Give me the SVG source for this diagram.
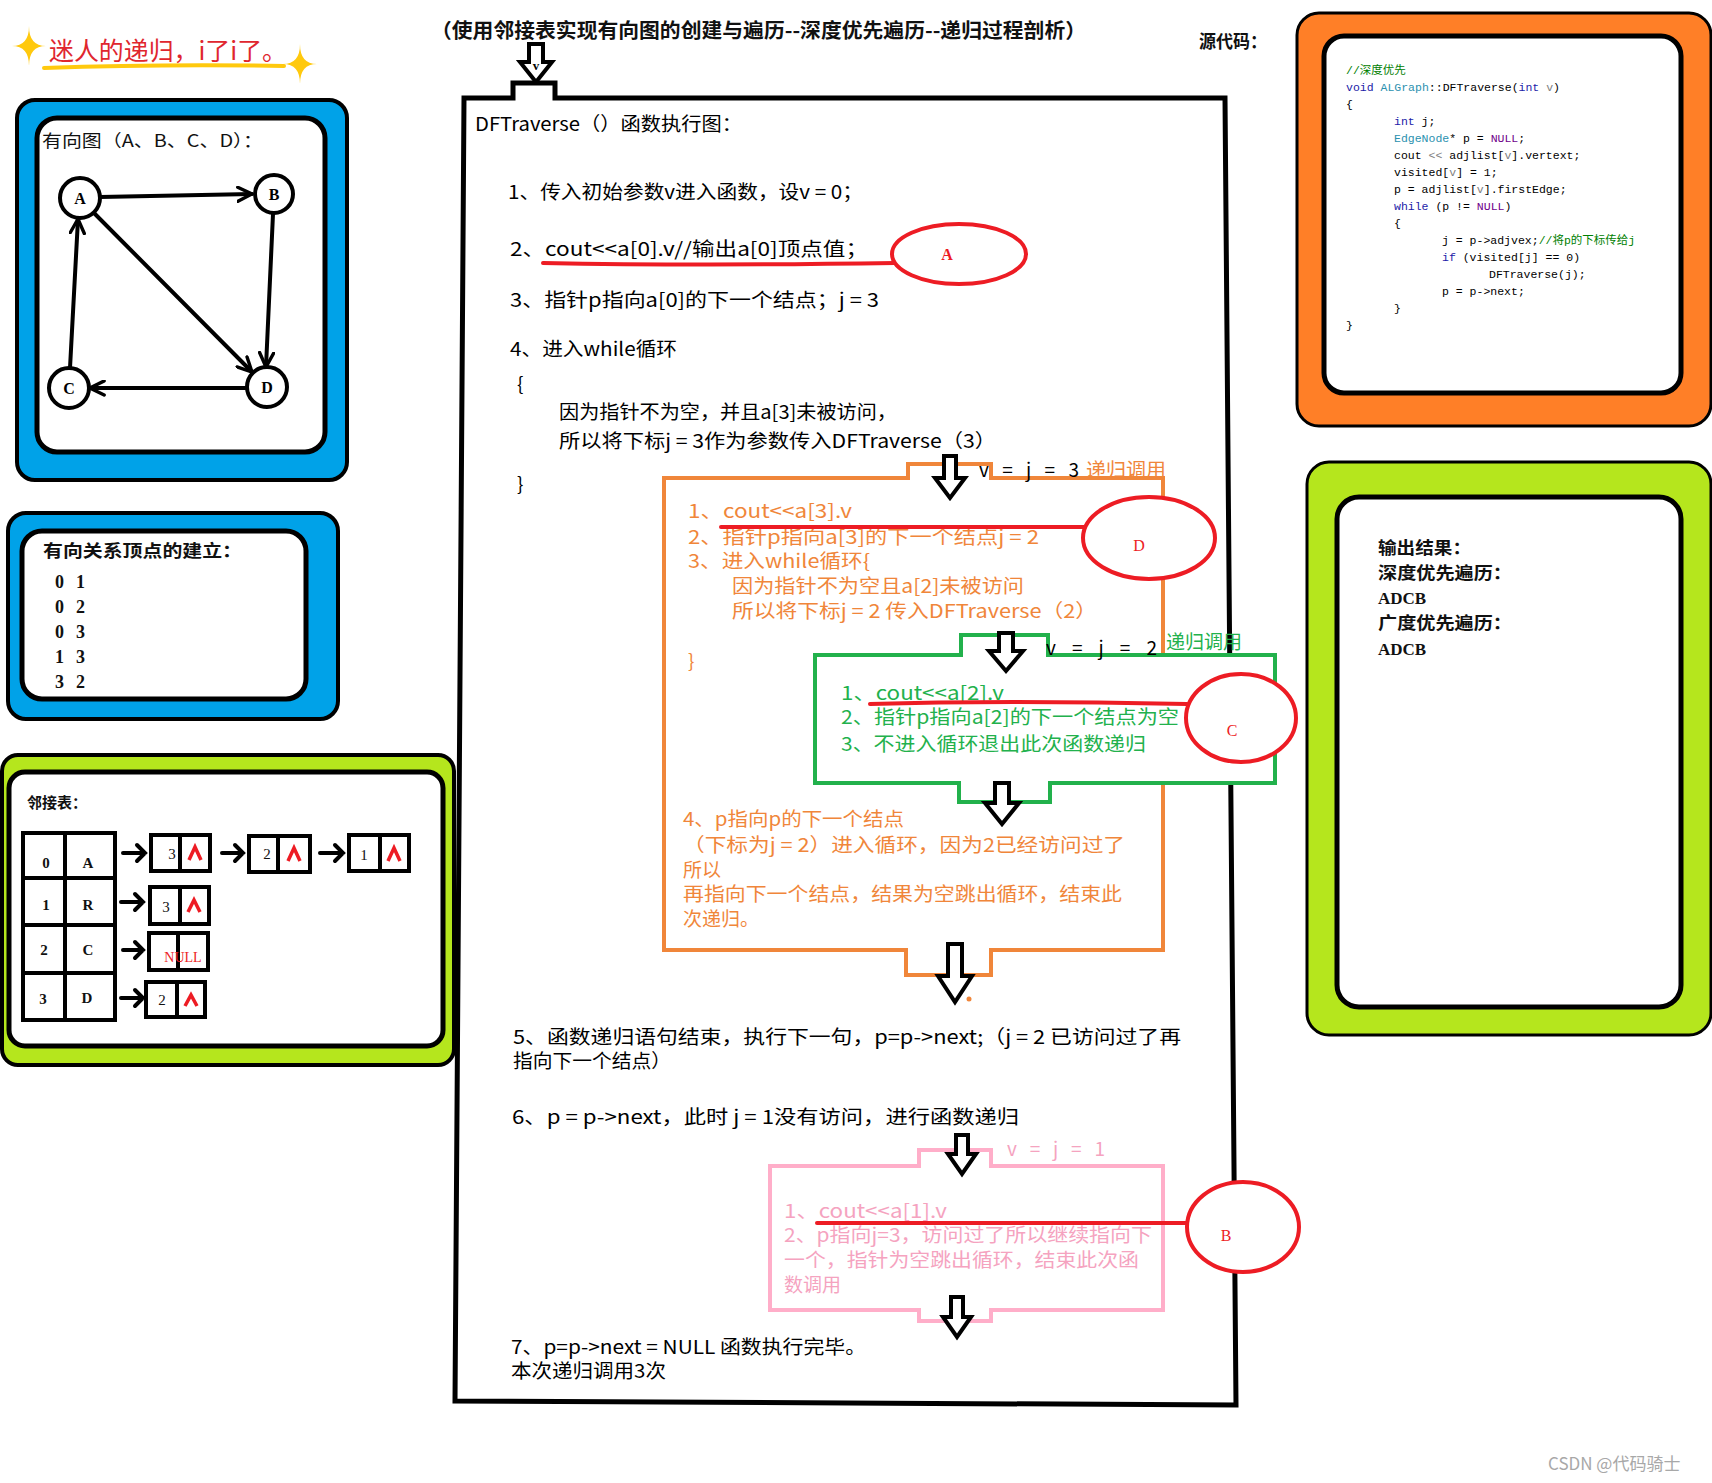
<svg xmlns="http://www.w3.org/2000/svg" width="1712" height="1483" viewBox="0 0 1712 1483">
<style>
.cjk{font-family:'Noto Sans CJK SC','Noto Sans',sans-serif}
.ser{font-family:'Liberation Serif','Noto Sans CJK SC',serif}
.mono{font-family:'Liberation Mono','Noto Sans CJK SC',monospace;font-size:11.5px;fill:#000}
.t{font-family:'Noto Sans CJK SC',sans-serif;font-size:19px;fill:#000}
.o{fill:#f0863a}
.g{fill:#22b14c}
.pk{fill:#f5a3bf}
.r{fill:#ed1c24}
.box{fill:#fff;stroke:#000;stroke-width:5}
.edge{fill:none;stroke:#000;stroke-width:4;stroke-linecap:round}
.har{fill:#fff;stroke:#000;stroke-width:4;stroke-linejoin:miter}
.rl{fill:none;stroke:#ed1c24;stroke-width:4;stroke-linecap:round}
.ell{fill:#fff;stroke:#ed1c24;stroke-width:4}
.cell{fill:#fff;stroke:#000;stroke-width:4}
.nul{fill:none;stroke:#ed1c24;stroke-width:3.5;stroke-linejoin:miter}
.kw{fill:#1c1ca8}.ty{fill:#2b91af}.cm{fill:#008000}.pa{fill:#808080}.nl{fill:#6f008a}
</style>
<defs>
<marker id="chev" viewBox="0 0 12 12" refX="11" refY="6" markerWidth="17" markerHeight="17" markerUnits="userSpaceOnUse" orient="auto"><path d="M1,1 L11,6 L1,11" fill="none" stroke="#000" stroke-width="2.4" stroke-linecap="round"/></marker>
<path id="star" d="M0,-20 Q0,0 17,0 Q0,0 0,20 Q0,0 -17,0 Q0,0 0,-20 Z" fill="#ffc90e"/>
</defs>

<!-- header -->
<g id="title">
<use href="#star" x="29" y="46"/>
<text x="49" y="60" class="cjk" font-size="25" fill="#e0262e" textLength="238" lengthAdjust="spacingAndGlyphs">迷人的递归，i了i了。</text>
<path d="M44,68 Q160,64 284,66" fill="none" stroke="#ffc90e" stroke-width="4" stroke-linecap="round"/>
<use href="#star" x="300" y="64"/>
</g>
<g id="heading">
<text x="431" y="38" class="cjk" font-size="20" font-weight="bold" fill="#111" textLength="655" lengthAdjust="spacingAndGlyphs">（使用邻接表实现有向图的创建与遍历--深度优先遍历--递归过程剖析）</text>
</g>
<g id="src-label"><text x="1199" y="48" class="cjk" font-size="18" font-weight="bold" fill="#111" textLength="68" lengthAdjust="spacingAndGlyphs">源代码：</text></g>

<!-- graph box -->
<g id="graph-box">
<rect x="17" y="100" width="330" height="380" rx="18" fill="#00a2e8" stroke="#000" stroke-width="4"/>
<rect x="37" y="118" width="288" height="334" rx="20" fill="#fff" stroke="#000" stroke-width="5"/>
<text x="42" y="147" class="cjk" font-size="17" fill="#111" textLength="221" lengthAdjust="spacingAndGlyphs">有向图（A、B、C、D）：</text>
<g id="graph-edges">
<path class="edge" d="M100,197 L252,194" marker-end="url(#chev)"/>
<path class="edge" d="M94,213 L252,372" marker-end="url(#chev)"/>
<path class="edge" d="M273,214 L266,367" marker-end="url(#chev)"/>
<path class="edge" d="M246,388 L90,388" marker-end="url(#chev)"/>
<path class="edge" d="M70,368 L78,219" marker-end="url(#chev)"/>
</g>
<g id="vA"><circle cx="80" cy="198" r="20" fill="#fff" stroke="#000" stroke-width="4"/><text x="80" y="204" class="ser" font-size="16" font-weight="bold" text-anchor="middle">A</text></g>
<g id="vB"><circle cx="274" cy="194" r="19" fill="#fff" stroke="#000" stroke-width="4"/><text x="274" y="200" class="ser" font-size="16" font-weight="bold" text-anchor="middle">B</text></g>
<g id="vC"><circle cx="69" cy="388" r="20" fill="#fff" stroke="#000" stroke-width="4"/><text x="69" y="394" class="ser" font-size="16" font-weight="bold" text-anchor="middle">C</text></g>
<g id="vD"><circle cx="267" cy="387" r="20" fill="#fff" stroke="#000" stroke-width="4"/><text x="267" y="393" class="ser" font-size="16" font-weight="bold" text-anchor="middle">D</text></g>
</g>

<!-- edges list box -->
<g id="edges-box">
<rect x="8" y="513" width="330" height="206" rx="18" fill="#00a2e8" stroke="#000" stroke-width="4"/>
<rect x="22" y="531" width="284" height="168" rx="20" fill="#fff" stroke="#000" stroke-width="5"/>
<text x="43" y="557" class="cjk" font-size="17" font-weight="bold" fill="#111" textLength="199" lengthAdjust="spacingAndGlyphs">有向关系顶点的建立：</text>
<g class="ser" font-size="18" font-weight="bold" fill="#111">
<text x="55" y="588">0<tspan x="76">1</tspan></text>
<text x="55" y="613">0<tspan x="76">2</tspan></text>
<text x="55" y="638">0<tspan x="76">3</tspan></text>
<text x="55" y="663">1<tspan x="76">3</tspan></text>
<text x="55" y="688">3<tspan x="76">2</tspan></text>
</g>
</g>

<!-- adjacency list box -->
<g id="adj-box">
<rect x="2" y="755" width="452" height="310" rx="16" fill="#b5e61d" stroke="#000" stroke-width="4"/>
<rect x="9" y="772" width="434" height="274" rx="16" fill="#fff" stroke="#000" stroke-width="5"/>
<text x="27" y="808" class="cjk" font-size="15" font-weight="bold" fill="#111">邻接表：</text>
<g id="adj-table">
<rect x="23" y="833" width="92" height="187" class="cell"/>
<path d="M65,833 V1020 M23,878 H115 M23,925 H115 M23,973 H115" stroke="#000" stroke-width="4" fill="none"/>
<g class="ser" font-size="15" font-weight="bold" fill="#111" text-anchor="middle">
<text x="46" y="868">0</text><text x="88" y="868">A</text>
<text x="46" y="910">1</text><text x="88" y="910">R</text>
<text x="44" y="955">2</text><text x="88" y="955">C</text>
<text x="43" y="1004">3</text><text x="87" y="1003">D</text>
</g>
</g>
<g id="adj-arrows" fill="none" stroke="#000" stroke-width="4" stroke-linecap="round">
<path d="M123,853 H145 M137,845 L145,853 L137,861"/>
<path d="M222,853 H243 M235,845 L243,853 L235,861"/>
<path d="M320,853 H343 M335,845 L343,853 L335,861"/>
<path d="M121,902 H143 M135,894 L143,902 L135,910"/>
<path d="M123,950 H143 M135,942 L143,950 L135,958"/>
<path d="M121,998 H143 M135,990 L143,998 L135,1006"/>
</g>
<g id="adj-nodes">
<rect x="151" y="835" width="59" height="36" class="cell"/><path d="M180,835 V871" stroke="#000" stroke-width="4"/>
<rect x="249" y="836" width="61" height="36" class="cell"/><path d="M278,836 V872" stroke="#000" stroke-width="4"/>
<rect x="349" y="835" width="60" height="36" class="cell"/><path d="M380,835 V871" stroke="#000" stroke-width="4"/>
<rect x="150" y="887" width="59" height="37" class="cell"/><path d="M180,887 V924" stroke="#000" stroke-width="4"/>
<rect x="149" y="933" width="59" height="37" class="cell"/><path d="M178,933 V970" stroke="#000" stroke-width="4"/>
<rect x="146" y="982" width="59" height="35" class="cell"/><path d="M177,982 V1017" stroke="#000" stroke-width="4"/>
<g class="ser" font-size="15" fill="#111" text-anchor="middle">
<text x="172" y="859">3</text><text x="267" y="859">2</text><text x="364" y="860">1</text>
<text x="166" y="912">3</text><text x="162" y="1005">2</text>
</g>
<text x="183" y="962" class="ser" font-size="14" fill="#ed1c24" text-anchor="middle">NULL</text>
<path class="nul" d="M189,860 L195,847 L201,860"/>
<path class="nul" d="M288,861 L294,848 L300,861"/>
<path class="nul" d="M388,861 L394,848 L400,861"/>
<path class="nul" d="M188,912 L194,900 L200,912"/>
<path class="nul" d="M185,1006 L191,995 L197,1006"/>
</g>
</g>

<!-- source code box -->
<g id="code-box">
<rect x="1297" y="13" width="414" height="413" rx="22" fill="#ff7f27" stroke="#000" stroke-width="3"/>
<rect x="1324" y="36" width="357" height="357" rx="20" fill="#fff" stroke="#000" stroke-width="5"/>
<g class="mono" xml:space="preserve">
<text x="1346" y="74" class="cm">//深度优先</text>
<text x="1346" y="91"><tspan class="kw">void</tspan> <tspan class="ty">ALGraph</tspan>::DFTraverse(<tspan class="kw">int</tspan> <tspan class="pa">v</tspan>)</text>
<text x="1346" y="108">{</text>
<text x="1394" y="125"><tspan class="kw">int</tspan> j;</text>
<text x="1394" y="142"><tspan class="ty">EdgeNode</tspan>* p = <tspan class="nl">NULL</tspan>;</text>
<text x="1394" y="159">cout <tspan class="pa">&lt;&lt;</tspan> adjlist[<tspan class="pa">v</tspan>].vertext;</text>
<text x="1394" y="176">visited[<tspan class="pa">v</tspan>] = 1;</text>
<text x="1394" y="193">p = adjlist[<tspan class="pa">v</tspan>].firstEdge;</text>
<text x="1394" y="210"><tspan class="kw">while</tspan> (p != <tspan class="nl">NULL</tspan>)</text>
<text x="1394" y="227">{</text>
<text x="1442" y="244">j = p-&gt;adjvex;<tspan class="cm">//将p的下标传给j</tspan></text>
<text x="1442" y="261"><tspan class="kw">if</tspan> (visited[j] == 0)</text>
<text x="1489" y="278">DFTraverse(j);</text>
<text x="1442" y="295">p = p-&gt;next;</text>
<text x="1394" y="312">}</text>
<text x="1346" y="329">}</text>
</g>
</g>

<!-- output box -->
<g id="output-box">
<rect x="1307" y="462" width="404" height="573" rx="22" fill="#b5e61d" stroke="#000" stroke-width="3"/>
<rect x="1337" y="497" width="344" height="510" rx="22" fill="#fff" stroke="#000" stroke-width="5"/>
<g class="cjk" font-size="17" font-weight="bold" fill="#111">
<text x="1378" y="554" textLength="93" lengthAdjust="spacingAndGlyphs">输出结果：</text>
<text x="1378" y="579" textLength="134" lengthAdjust="spacingAndGlyphs">深度优先遍历：</text>
<text x="1378" y="629" textLength="134" lengthAdjust="spacingAndGlyphs">广度优先遍历：</text>
</g>
<g class="ser" font-size="17" font-weight="bold" fill="#111">
<text x="1378" y="604">ADCB</text><text x="1378" y="655">ADCB</text>
</g>
</g>

<!-- main flow frame -->
<g id="main-frame">
<path class="box" d="M464,98 H513 V83 H555 V98 H1225 L1236,1405 L455,1401 Z"/>
<text x="475" y="131" class="t" textLength="267" lengthAdjust="spacingAndGlyphs">DFTraverse（）函数执行图：</text>
<text x="508" y="199" class="t" textLength="355" lengthAdjust="spacingAndGlyphs">1、传入初始参数v进入函数，设v = 0；</text>
<text x="510" y="256" class="t" textLength="358" lengthAdjust="spacingAndGlyphs">2、cout&lt;&lt;a[0].v//输出a[0]顶点值；</text>
<text x="510" y="307" class="t" textLength="369" lengthAdjust="spacingAndGlyphs">3、指针p指向a[0]的下一个结点；j = 3</text>
<text x="510" y="356" class="t" textLength="167" lengthAdjust="spacingAndGlyphs">4、进入while循环</text>
<text x="517" y="391" class="t">{</text>
<text x="559" y="419" class="t" textLength="338" lengthAdjust="spacingAndGlyphs">因为指针不为空，并且a[3]未被访问，</text>
<text x="559" y="448" class="t" textLength="437" lengthAdjust="spacingAndGlyphs">所以将下标j = 3作为参数传入DFTraverse（3）</text>
<text x="517" y="491" class="t">}</text>
<text x="513" y="1044" class="t" textLength="668" lengthAdjust="spacingAndGlyphs">5、函数递归语句结束，执行下一句，p=p-&gt;next;（j = 2 已访问过了再</text>
<text x="513" y="1068" class="t" textLength="158" lengthAdjust="spacingAndGlyphs">指向下一个结点）</text>
<text x="512" y="1124" class="t" textLength="507" lengthAdjust="spacingAndGlyphs">6、p = p-&gt;next，此时 j = 1没有访问，进行函数递归</text>
<text x="511" y="1354" class="t" textLength="355" lengthAdjust="spacingAndGlyphs">7、p=p-&gt;next = NULL 函数执行完毕。</text>
<text x="511" y="1378" class="t" textLength="155" lengthAdjust="spacingAndGlyphs">本次递归调用3次</text>
</g>

<!-- call v=3 (orange) -->
<g id="call-3">
<path d="M664,478 H908 V464 H991 V478 H1163 V950 H991 V975 H906 V950 H664 Z" fill="#fff" stroke="#f0863a" stroke-width="4"/>
<text x="979" y="477" class="t" font-size="16" textLength="100" lengthAdjust="spacing">v = j = 3</text>
<text x="1086" y="477" class="t o" font-size="17" textLength="80" lengthAdjust="spacingAndGlyphs">递归调用</text>
<text x="688" y="518" class="t o" textLength="164" lengthAdjust="spacingAndGlyphs">1、cout&lt;&lt;a[3].v</text>
<text x="688" y="544" class="t o" textLength="351" lengthAdjust="spacingAndGlyphs">2、指针p指向a[3]的下一个结点j = 2</text>
<text x="688" y="568" class="t o" textLength="182" lengthAdjust="spacingAndGlyphs">3、进入while循环{</text>
<text x="732" y="593" class="t o" textLength="292" lengthAdjust="spacingAndGlyphs">因为指针不为空且a[2]未被访问</text>
<text x="732" y="618" class="t o" textLength="365" lengthAdjust="spacingAndGlyphs">所以将下标j = 2 传入DFTraverse（2）</text>
<text x="688" y="668" class="t o">}</text>
<text x="683" y="826" class="t o" textLength="221" lengthAdjust="spacingAndGlyphs">4、p指向p的下一个结点</text>
<text x="683" y="852" class="t o" textLength="442" lengthAdjust="spacingAndGlyphs">（下标为j = 2）进入循环，因为2已经访问过了</text>
<text x="683" y="877" class="t o">所以</text>
<text x="683" y="901" class="t o" textLength="439" lengthAdjust="spacingAndGlyphs">再指向下一个结点，结果为空跳出循环，结束此</text>
<text x="683" y="926" class="t o">次递归。</text>
<circle cx="969" cy="999" r="2.5" fill="#f0863a"/>
</g>

<!-- call v=2 (green) -->
<g id="call-2">
<path d="M815,655 H961 V635 H1048 V655 H1275 V783 H1050 V802 H959 V783 H815 Z" fill="#fff" stroke="#22b14c" stroke-width="4"/>
<text x="1046" y="655" class="t" font-size="16" textLength="111" lengthAdjust="spacing">v = j  = 2</text>
<text x="1166" y="649" class="t g" font-size="18" textLength="76" lengthAdjust="spacingAndGlyphs">递归调用</text>
<text x="841" y="700" class="t g" textLength="163" lengthAdjust="spacingAndGlyphs">1、cout&lt;&lt;a[2].v</text>
<text x="841" y="724" class="t g" textLength="338" lengthAdjust="spacingAndGlyphs">2、指针p指向a[2]的下一个结点为空</text>
<text x="841" y="751" class="t g" textLength="305" lengthAdjust="spacingAndGlyphs">3、不进入循环退出此次函数递归</text>
</g>

<!-- call v=1 (pink) -->
<g id="call-1">
<path d="M770,1166 H919 V1150 H991 V1166 H1163 V1310 H991 V1321 H919 V1310 H770 Z" fill="#fff" stroke="#ffaec9" stroke-width="4"/>
<text x="1007" y="1156" class="t pk" font-size="16" textLength="98" lengthAdjust="spacing">v = j = 1</text>
<text x="784" y="1218" class="t pk" textLength="163" lengthAdjust="spacingAndGlyphs">1、cout&lt;&lt;a[1].v</text>
<text x="784" y="1242" class="t pk" textLength="368" lengthAdjust="spacingAndGlyphs">2、p指向j=3，访问过了所以继续指向下</text>
<text x="784" y="1267" class="t pk" textLength="355" lengthAdjust="spacingAndGlyphs">一个，指针为空跳出循环，结束此次函</text>
<text x="784" y="1292" class="t pk">数调用</text>
</g>

<!-- connectors: flow arrows and callout lines -->
<g id="connectors">
<path class="har" d="M529,44 H543 V62 H552 L536,82 L520,62 H529 Z"/>
<text x="536" y="70" class="ser" font-size="13" font-weight="bold" text-anchor="middle">v</text>
<path class="har" d="M944,456 H956 V478 H965 L950,498 L935,478 H944 Z"/>
<path class="har" d="M999,633 H1013 V651 H1023 L1006,671 L989,651 H999 Z"/>
<path class="har" d="M995,783 H1009 V803 H1019 L1002,824 L985,803 H995 Z"/>
<path class="har" d="M948,944 H962 V976 H972 L955,1002 L938,976 H948 Z"/>
<path class="har" d="M956,1135 H968 V1154 H976 L962,1174 L948,1154 H956 Z"/>
<path class="har" d="M951,1297 H963 V1317 H971 L957,1337 L943,1317 H951 Z"/>
<path class="rl" d="M543,263 Q700,266 895,263"/>
<path class="rl" d="M721,527 H1086"/>
<path class="rl" d="M870,704 Q1000,700 1187,704"/>
<path class="rl" d="M817,1223 H1187"/>
</g>

<!-- callout ellipses -->
<g id="mark-A"><ellipse cx="959" cy="254" rx="67" ry="30" class="ell"/><text x="947" y="260" class="ser r" font-size="16" font-weight="bold" text-anchor="middle">A</text></g>
<g id="mark-D"><ellipse cx="1149" cy="538" rx="66" ry="41" class="ell"/><text x="1139" y="551" class="ser r" font-size="16" text-anchor="middle">D</text></g>
<g id="mark-C"><ellipse cx="1241" cy="718" rx="55" ry="44" class="ell"/><text x="1232" y="736" class="ser r" font-size="16" text-anchor="middle">C</text></g>
<g id="mark-B"><ellipse cx="1243" cy="1227" rx="56" ry="45" class="ell"/><text x="1226" y="1241" class="ser r" font-size="16" text-anchor="middle">B</text></g>

<g id="watermark"><text x="1548" y="1470" class="cjk" font-size="17" fill="#a8a8a8">CSDN @代码骑士</text></g>
</svg>
